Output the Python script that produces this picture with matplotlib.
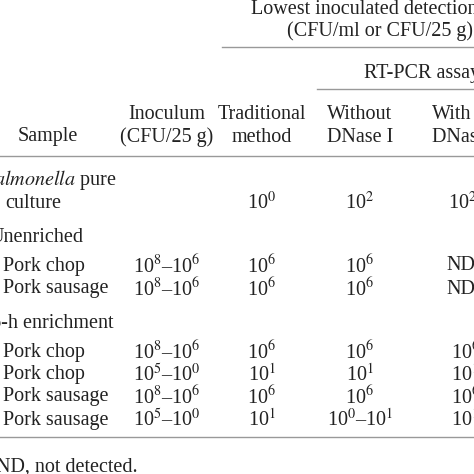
import matplotlib
matplotlib.use("Agg")
import matplotlib.pyplot as plt

plt.rcParams['font.family'] = ['Liberation Serif', 'DejaVu Serif']
plt.rcParams['mathtext.fontset'] = 'stix'

samples = ["Pork chop", "Pork sausage"]
unenriched_inoc = ["10$^{8}$–10$^{6}$", "10$^{8}$–10$^{6}$"]
unenriched_trad = ["10$^{6}$", "10$^{6}$"]
unenriched_wo = ["10$^{6}$", "10$^{6}$"]
unenriched_w = ["ND", "ND"]
enr_samples = ["Pork chop", "Pork chop", "Pork sausage", "Pork sausage"]
enr_inoc = ["10$^{8}$–10$^{6}$", "10$^{5}$–10$^{0}$", "10$^{8}$–10$^{6}$", "10$^{5}$–10$^{0}$"]
enr_trad = ["10$^{6}$", "10$^{1}$", "10$^{6}$", "10$^{1}$"]
enr_wo = ["10$^{6}$", "10$^{1}$", "10$^{6}$", "10$^{0}$–10$^{1}$"]
enr_w = ["10$^{6}$", "10$^{1}$", "10$^{6}$", "10$^{1}$"]
pure = ["10$^{0}$", "10$^{2}$", "10$^{2}$"]

fig = plt.figure(figsize=(4.74, 4.74), dpi=100)
ax = fig.add_axes([0, 0, 1, 1])
ax.set_xlim(0, 474); ax.set_ylim(474, 0); ax.axis('off')
fs = 14.5
c = '#222222'
lc = '#999999'
def t(x, y, s, ha='center', **kw):
    ax.text(x, y, s, ha=ha, va='center', fontsize=fs, color=c, **kw)

t(251, 9, "Lowest inoculated detection limit", ha='left')
t(287, 31, "(CFU/ml or CFU/25 g)", ha='left')
ax.plot([222, 474], [47, 47], color=lc, lw=1)
t(364, 73, "RT-PCR assay", ha='left')
ax.plot([317, 474], [89, 89], color=lc, lw=1)
cx = [48, 167, 262, 360, 432]
t(cx[0], 137, "Sample")
t(cx[1], 114, "Inoculum"); t(cx[1], 137, "(CFU/25 g)")
t(cx[2], 114, "Traditional"); t(cx[2], 137, "method")
t(cx[3], 114, "Without"); t(cx[3], 137, "DNase I")
t(cx[4], 114, "With", ha='left'); t(cx[4], 137, "DNase I", ha='left')
ax.plot([0, 474], [156, 156], color=lc, lw=1)

t(-16, 180, "$\\mathit{Salmonella}$ pure", ha='left')
t(5, 203, "culture", ha='left')
t(cx[2], 203, pure[0]); t(cx[3], 203, pure[1]); t(448, 203, pure[2], ha='left')

t(-10, 237, "Unenriched", ha='left')
for i, y in enumerate([266, 289]):
    t(3, y, samples[i], ha='left')
    t(cx[1], y, unenriched_inoc[i]); t(cx[2], y, unenriched_trad[i]); t(cx[3], y, unenriched_wo[i])
    t(446, y, unenriched_w[i], ha='left')

t(-9, 323, "6-h enrichment", ha='left')
for i, y in enumerate([352, 375, 397, 420]):
    t(3, y, enr_samples[i], ha='left')
    t(cx[1], y, enr_inoc[i]); t(cx[2], y, enr_trad[i]); t(cx[3], y, enr_wo[i])
    t(451, y, enr_w[i], ha='left')
ax.plot([0, 474], [437, 437], color=lc, lw=1)
t(-4, 467, "ND, not detected.", ha='left')
fig.savefig("out.png", dpi=100)
